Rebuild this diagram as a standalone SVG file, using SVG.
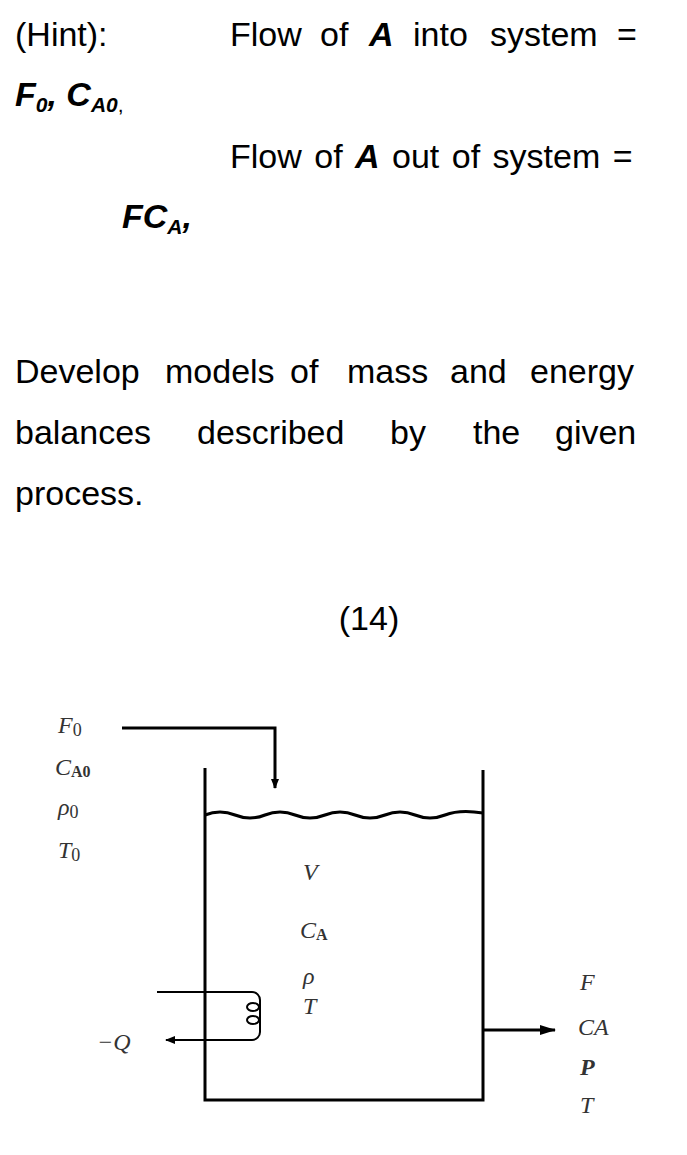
<svg xmlns="http://www.w3.org/2000/svg" width="687" height="1155" viewBox="0 0 687 1155">
<style>
.t{font-family:"Liberation Sans",Arial,sans-serif;font-size:34px;fill:#000}
.bi{font-weight:bold;font-style:italic}
.s{font-family:"Liberation Serif","Times New Roman",serif;font-style:italic;font-size:24px;fill:#333}
.ln{stroke:#000;fill:none;stroke-width:3}
.th{stroke:#000;fill:none;stroke-width:2}
</style>
<defs>
<marker id="ah" markerWidth="10" markerHeight="8" refX="9" refY="4" orient="auto" markerUnits="userSpaceOnUse"><path d="M0,0 L10,4 L0,8 Z" fill="#000"/></marker>
<marker id="ah2" markerWidth="16" markerHeight="10" refX="15" refY="5" orient="auto" markerUnits="userSpaceOnUse"><path d="M0,0 L16,5 L0,10 Z" fill="#000"/></marker>
</defs>
<rect width="687" height="1155" fill="#fff"/>
<g id="text">
<text class="t" x="15" y="46">(Hint):</text>
<text class="t" y="46"><tspan x="230">Flow</tspan><tspan x="320">of</tspan><tspan x="369" class="bi">A</tspan><tspan x="413">into</tspan><tspan x="490">system</tspan><tspan x="617">=</tspan></text>
<text class="t bi" x="15" y="106">F<tspan font-size="21" dy="6">0</tspan><tspan dy="-6">, C</tspan><tspan font-size="21" dy="6">A0</tspan><tspan font-weight="normal" font-style="normal" font-size="21">,</tspan></text>
<text class="t" x="230" y="168" word-spacing="3">Flow of <tspan class="bi">A</tspan> out of system =</text>
<text class="t bi" x="122" y="228">FC<tspan font-size="21" dy="6">A</tspan><tspan dy="-6">,</tspan></text>
<text class="t" y="383"><tspan x="15">Develop</tspan><tspan x="165">models</tspan><tspan x="290">of</tspan><tspan x="347">mass</tspan><tspan x="450">and</tspan><tspan x="530">energy</tspan></text>
<text class="t" y="444"><tspan x="15">balances</tspan><tspan x="197">described</tspan><tspan x="390">by</tspan><tspan x="473">the</tspan><tspan x="555">given</tspan></text>
<text class="t" x="15" y="505">process.</text>
<text class="t" x="369" y="630" text-anchor="middle">(14)</text>
</g>
<g id="tank">
<path class="ln" d="M205,768 V1100 H483 V770"/>
<path class="ln" d="M205,815 q15,-6 30,0 t30,0 t30,0 t30,0 t30,0 t30,0 t30,0 t30,0 t38,-2"/>
</g>
<g id="connectors">
<path class="ln" d="M122,728 H275 V788" marker-end="url(#ah)"/>
<path class="th" d="M157,992 H252 a8,8 0 0 1 8,8 V1032 a8,8 0 0 1 -8,8 H166" marker-end="url(#ah)"/>
<ellipse cx="253" cy="1007" rx="6" ry="4" class="th"/>
<ellipse cx="253" cy="1020" rx="6" ry="4" class="th"/>
<path class="ln" d="M483,1030 H555" marker-end="url(#ah2)"/>
</g>
<g id="labels">
<text class="s" x="58" y="733">F<tspan font-style="normal" font-size="18" dy="3">0</tspan></text>
<text class="s" x="55" y="775">C<tspan font-style="normal" font-weight="bold" font-size="16" dy="2">A0</tspan></text>
<text class="s" x="58" y="815">ρ<tspan font-style="normal" font-size="18" dy="3">0</tspan></text>
<text class="s" x="58" y="858">T<tspan font-style="normal" font-size="18" dy="3">0</tspan></text>
<text class="s" x="303" y="880">V</text>
<text class="s" x="300" y="938">C<tspan font-style="normal" font-weight="bold" font-size="16" dy="2">A</tspan></text>
<text class="s" x="303" y="984">ρ</text>
<text class="s" x="303" y="1014">T</text>
<text class="s" x="97" y="1050">−Q</text>
<text class="s" x="580" y="990" font-size="22">F</text>
<text class="s" x="578" y="1035" font-style="normal" font-size="22">CA</text>
<text class="s" x="580" y="1075" font-style="normal" font-weight="bold" font-family="Liberation Sans" font-size="16">P</text>
<text class="s" x="580" y="1113" font-size="22">T</text>
</g>
</svg>
